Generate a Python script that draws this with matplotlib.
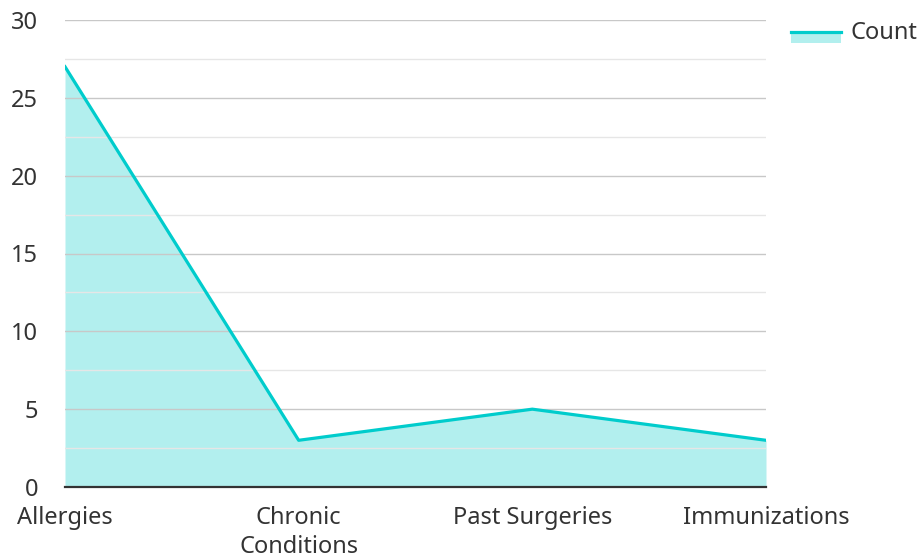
import matplotlib
matplotlib.use("Agg")
from matplotlib import pyplot as plt
from matplotlib.lines import Line2D
from matplotlib.patches import Rectangle

categories = ["Allergies", "Chronic\nConditions", "Past Surgeries", "Immunizations"]
counts = [27, 3, 5, 3]
series_name = "Count"

line_color = "#00cccc"
fill_color = "#b2efee"
text_color = "#333333"
W, H = 924, 559

plt.rcParams["font.family"] = ["Noto Sans", "DejaVu Sans"]

fig = plt.figure(figsize=(W / 100, H / 100), dpi=100)
ax = fig.add_axes([65 / W, 1 - 487 / H, (766 - 65) / W, (487 - 20) / H])

x = list(range(len(categories)))
ax.fill_between(x, counts, 0, color=fill_color, linewidth=0, zorder=1)
ax.plot(x, counts, color=line_color, linewidth=2.3, zorder=3)

ax.set_xlim(0, len(categories) - 1)
ax.set_ylim(0, 30)
ax.set_yticks(range(0, 31, 5))
ax.set_yticks([v + 2.5 for v in range(0, 30, 5)], minor=True)
ax.set_xticks(x)
ax.set_xticklabels(categories, fontsize=17, color=text_color, linespacing=1.3)
ax.tick_params(axis="y", labelsize=17, labelcolor=text_color, length=0, pad=19.5)
ax.tick_params(axis="x", length=0, pad=13.5)
ax.tick_params(which="minor", length=0)

ax.set_axisbelow(False)
ax.grid(axis="y", which="major", color="#c8c8c8", linewidth=1.0, zorder=2)
ax.grid(axis="y", which="minor", color="#e6e6e6", linewidth=1.0, zorder=2)
ax.grid(axis="x", visible=False)

for side in ["top", "right", "left"]:
    ax.spines[side].set_visible(False)
ax.spines["bottom"].set_color(text_color)
ax.spines["bottom"].set_linewidth(1.6)
ax.spines["bottom"].set_zorder(4)

# legend: filled swatch with the line along its top edge
fig.patches.append(Rectangle((791 / W, 1 - 43 / H), 50 / W, 12 / H,
                             transform=fig.transFigure, facecolor=fill_color,
                             edgecolor="none"))
fig.lines.append(Line2D([791 / W, 841 / W], [1 - 32 / H, 1 - 32 / H],
                        transform=fig.transFigure, color=line_color, linewidth=2.3))
fig.text(850 / W, 1 - 33 / H, series_name, fontsize=17, color=text_color,
         ha="left", va="center")

fig.savefig("out.png", dpi=100)
plt.close(fig)
